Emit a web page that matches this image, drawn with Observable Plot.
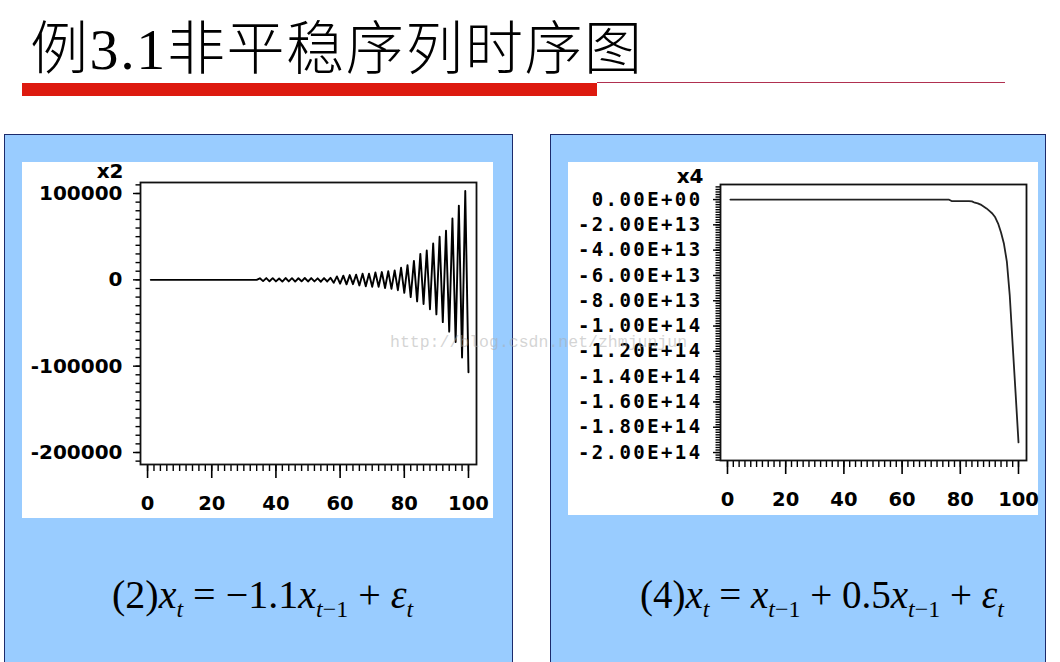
<!DOCTYPE html>
<html><head><meta charset="utf-8">
<script src="https://cdn.jsdelivr.net/npm/d3@7"></script>
<script src="https://cdn.jsdelivr.net/npm/@observablehq/plot@0.6"></script>
<style>
body{margin:0;width:1060px;height:662px;overflow:hidden;background:#fff;position:relative;}
.abs{position:absolute;}
#title{left:30px;top:21px;font-family:"Liberation Serif","Noto Sans CJK SC";font-weight:300;font-size:58px;line-height:58px;letter-spacing:1.6px;white-space:nowrap;color:#000;}
#redbar{left:22px;top:83px;width:575px;height:13px;background:#dd1a0f;}
#thin{left:597px;top:82px;width:408px;height:1px;background:#b03050;}
.panel{background:#99ccff;border:1px solid #1c2a6b;box-sizing:border-box;}
.white{background:#fff;}
.formula{font-family:"Liberation Serif";font-size:40px;line-height:40px;white-space:nowrap;color:#000;}
.formula sub{font-size:24px;line-height:0;vertical-align:-9px;}
#wm{left:390px;top:333px;font-family:"Liberation Mono";font-size:16.5px;color:rgba(170,170,170,0.5);white-space:nowrap;z-index:10;}
</style></head>
<body>
<div id="title" class="abs">例3.1非平稳序列时序图</div>
<div id="redbar" class="abs"></div>
<div id="thin" class="abs"></div>

<div class="abs panel" style="left:4px;top:134px;width:509px;height:540px;"></div>
<div class="abs white" style="left:22px;top:162px;width:471px;height:356px;"></div>
<div class="abs panel" style="left:550px;top:134px;width:496px;height:540px;"></div>
<div class="abs white" style="left:568px;top:162px;width:470px;height:353px;"></div>

<div id="c1" class="abs" style="left:23px;top:162px;"></div>
<div id="c2" class="abs" style="left:568px;top:162px;"></div>

<div class="abs formula" style="left:112px;top:575px;">(2)<i>x</i><sub><i>t</i></sub> = −1.1<i>x</i><sub><i>t</i>−1</sub> + <i>ε</i><sub><i>t</i></sub></div>
<div class="abs formula" style="left:640px;top:575px;font-size:39px;">(4)<i>x</i><sub><i>t</i></sub> = <i>x</i><sub><i>t</i>−1</sub> + 0.5<i>x</i><sub><i>t</i>−1</sub> + <i>ε</i><sub><i>t</i></sub></div>

<div id="wm" class="abs">http://blog.csdn.net/zhmjunjun</div>

<script>
// time index
const t = d3.range(1, 101);

// series (2): x_t = -1.1 x_{t-1} + e_t
const x2 = [
  0,0,0,0,0,0,0,0,0,0,
  0,0,0,0,0,0,0,0,0,0,
  0,0,0,0,0,0,0,0,0,0,
  0,0,0,0,1800,-1500,2000,-1700,1900,-1800,
  1600,-2000,2100,-1800,1900,-2000,1800,-1700,2100,-1900,
  2000,-1800,1700,-2200,2000,-1900,2300,-3500,4000,-4500,
  4800,-5200,5500,-5000,6000,-6500,7000,-7500,7000,-8000,
  8500,-8000,9000,-9500,10000,-10500,11000,-12000,14000,-15000,
  17000,-20000,22000,-25000,30000,-28000,34000,-34000,42000,-40000,
  50000,-49000,57000,-60000,71000,-72000,86000,-90000,103000,-107000
];

// series (4): x_t = x_{t-1} + 0.5 x_{t-1} + e_t  (in units of 1e13)
const x4e13 = [
  0,0,0,0,0,0,0,0,0,0,
  0,0,0,0,0,0,0,0,0,0,
  0,0,0,0,0,0,0,0,0,0,
  0,0,0,0,0,0,0,0,0,0,
  0,0,0,0,0,0,0,0,0,0,
  0,0,0,0,0,0,0,0,0,0,
  0,0,0,0,0,0,0,0,0,0,
  0,0,0,0,0,0,-0.12,-0.12,-0.12,-0.12,
  -0.12,-0.12,-0.12,-0.15,-0.25,-0.3,-0.4,-0.55,-0.7,-0.9,
  -1.1,-1.4,-1.9,-2.6,-3.5,-4.9,-7.6,-11.5,-15.3,-19.2
];

const xTicks = [0, 20, 40, 60, 80, 100];
const leftYTicks = [100000, 0, -100000, -200000];
const rightYTicks = [0, -2e13, -4e13, -6e13, -8e13, -1e14, -1.2e14, -1.4e14, -1.6e14, -1.8e14, -2e14];
const rightYLabels = ["0.00E+00","-2.00E+13","-4.00E+13","-6.00E+13","-8.00E+13","-1.00E+14","-1.20E+14","-1.40E+14","-1.60E+14","-1.80E+14","-2.00E+14"];
const leftLabel = "x2";
const rightLabel = "x4";

const xMinor = d3.range(0, 101, 2);
const leftYMinor = d3.range(-210000, 110001, 10000);
const rightYMinor = d3.range(-206, 11, 2).map(v => v * 1e12);

const data2 = t.map((d, i) => ({t: d, v: x2[i]}));
const data4 = t.map((d, i) => ({t: d, v: x4e13[i] * 1e13}));

const boldSans = {fontFamily: "DejaVu Sans", fontWeight: "bold", fontSize: 20};

const p1 = Plot.plot({
  width: 470, height: 356,
  marginLeft: 117, marginRight: 17, marginTop: 20, marginBottom: 54,
  x: {domain: [-2.2, 102.5]},
  y: {domain: [-213900, 112740]},
  style: {background: "transparent", color: "#000", overflow: "visible"},
  marks: [
    Plot.axisY(leftYMinor, {tickSize: 4.5, tickFormat: () => "", label: null, strokeWidth: 1.4}),
    Plot.axisY(leftYTicks, {tickSize: 7, tickPadding: 11, tickFormat: d => String(d), label: null, strokeWidth: 1.4, ...boldSans}),
    Plot.axisX(xMinor, {tickSize: 7, tickFormat: () => "", label: null, strokeWidth: 1.4}),
    Plot.axisX(xTicks, {tickSize: 14, tickPadding: 18, tickFormat: d => String(d), label: null, strokeWidth: 1.6, ...boldSans, fontSize: 19.5}),
    Plot.frame({stroke: "#111", strokeWidth: 1.8}),
    Plot.line(data2, {x: "t", y: "v", stroke: "#000", strokeWidth: 1.9}),
    Plot.text([leftLabel], {text: d => d, frameAnchor: "top-left", dx: -17, dy: -19, textAnchor: "end", ...boldSans})
  ]
});
document.getElementById("c1").appendChild(p1);

const p2 = Plot.plot({
  width: 470, height: 353,
  marginLeft: 152, marginRight: 12, marginTop: 22, marginBottom: 55,
  x: {domain: [-2.4, 102.75]},
  y: {domain: [-2.063e14, 1.19e13]},
  style: {background: "transparent", color: "#000", overflow: "visible"},
  marks: [
    Plot.axisY(rightYMinor, {tickSize: 4.5, tickFormat: () => "", label: null, strokeWidth: 1.4}),
    Plot.axisY(rightYTicks, {tickSize: 7, tickPadding: 11, tickFormat: (d, i) => rightYLabels[i], label: null, strokeWidth: 1.4, fontFamily: "DejaVu Sans Mono", fontWeight: "bold", fontSize: 19}),
    Plot.axisX(xMinor, {tickSize: 7, tickFormat: () => "", label: null, strokeWidth: 1.4}),
    Plot.axisX(xTicks, {tickSize: 14, tickPadding: 18, tickFormat: d => String(d), label: null, strokeWidth: 1.6, ...boldSans, fontSize: 19.5}),
    Plot.frame({stroke: "#111", strokeWidth: 1.8}),
    Plot.line(data4, {x: "t", y: "v", stroke: "#222", strokeWidth: 1.8}),
    Plot.text([rightLabel], {text: d => d, frameAnchor: "top-left", dx: -17, dy: -16, textAnchor: "end", ...boldSans})
  ]
});
document.getElementById("c2").appendChild(p2);
p2.querySelectorAll('g[aria-label="y-axis tick label"] text').forEach(el => el.style.letterSpacing = "2.4px");
</script>
</body></html>
